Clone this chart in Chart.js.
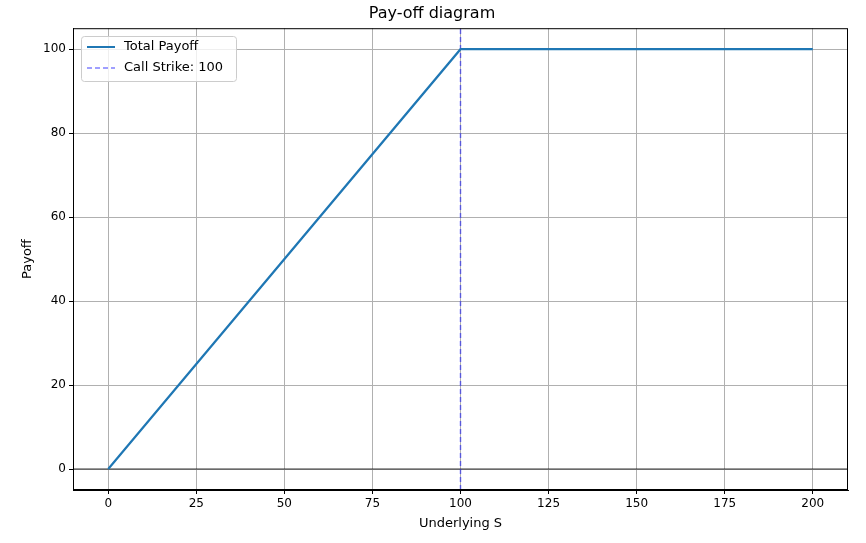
<!DOCTYPE html>
<html><head><meta charset="utf-8">
<script src="https://cdn.jsdelivr.net/npm/chart.js@4"></script>
<style>body{margin:0;background:#fff}</style></head>
<body><canvas id="c" width="866" height="543" style="width:866px;height:543px"></canvas>
<script>
const payoffX = [0, 100, 200];
const payoffY = [0, 100, 100];
const strike = 100;
const xTicks = [0,25,50,75,100,125,150,175,200];
const yTicks = [0,20,40,60,80,100];
const F = "'DejaVu Sans', sans-serif";

const frame = {
  id:'frame',
  afterDraw(ch){
    const a=ch.chartArea, c=ch.ctx;
    c.save();
    c.strokeStyle='#000'; c.lineWidth=1;
    c.strokeRect(a.left+0.5,a.top+0.5,a.right-a.left-1,a.bottom-a.top-1);
    const lx=81, ly=36;
    c.fillStyle='rgba(255,255,255,0.8)'; c.strokeStyle='#ccc';
    c.beginPath(); c.roundRect(lx+0.5,ly+0.5,155,45,3); c.fill(); c.stroke();
    c.strokeStyle='#1f77b4'; c.lineWidth=2; c.setLineDash([]);
    c.beginPath(); c.moveTo(lx+6,ly+11); c.lineTo(lx+34,ly+11); c.stroke();
    c.strokeStyle='rgba(0,0,255,0.5)'; c.lineWidth=1.5; c.setLineDash([5,3]);
    c.beginPath(); c.moveTo(lx+6,ly+32); c.lineTo(lx+34,ly+32); c.stroke();
    c.setLineDash([]);
    c.fillStyle='#000'; c.font='13px '+F; c.textBaseline='middle';
    c.fillText('Total Payoff',lx+43,ly+11);
    c.fillText('Call Strike: '+strike,lx+43,ly+32);
    c.restore();
  }
};

new Chart(document.getElementById('c'),{
  type:'scatter',
  data:{datasets:[
    {label:'zero',data:[{x:-10,y:0},{x:210,y:0}],showLine:true,borderColor:'#000',borderWidth:0.8,pointRadius:0,order:3},
    {label:'Total Payoff',data:payoffX.map((x,i)=>({x,y:payoffY[i]})),showLine:true,borderColor:'#1f77b4',borderWidth:2.2,pointRadius:0,order:1},
    {label:'Call Strike: '+strike,data:[{x:strike,y:-5},{x:strike,y:105}],showLine:true,borderColor:'rgba(0,0,255,0.5)',borderWidth:1.5,borderDash:[5,3],pointRadius:0,order:2}
  ]},
  options:{
    responsive:false,animation:false,
    layout:{padding:{left:16,right:18,top:0,bottom:8}},
    plugins:{legend:{display:false},tooltip:{enabled:false},
      title:{display:true,text:'Pay-off diagram',color:'#000',font:{family:F,size:16,weight:'normal'},padding:{top:4,bottom:5}}},
    scales:{
      x:{type:'linear',min:-10,max:210,
        afterBuildTicks(s){s.ticks=xTicks.map(v=>({value:v}));},
        afterFit(s){s.height=45;},
        grid:{color:'#b0b0b0',tickColor:'#000',tickLength:4},
        border:{color:'#000'},
        ticks:{color:'#000',font:{family:F,size:12},padding:3,maxRotation:0},
        title:{display:true,text:'Underlying S',color:'#000',font:{family:F,size:13},padding:{top:2}}},
      y:{min:-5,max:105,
        afterBuildTicks(s){s.ticks=yTicks.map(v=>({value:v}));},
        afterFit(s){s.width=57;},
        grid:{color:'#b0b0b0',tickColor:'#000',tickLength:4},
        border:{color:'#000'},
        ticks:{color:'#000',font:{family:F,size:12},padding:3},
        title:{display:true,text:'Payoff',color:'#000',font:{family:F,size:13},padding:{bottom:4}}}
    }
  },
  plugins:[frame]
});
</script></body></html>
